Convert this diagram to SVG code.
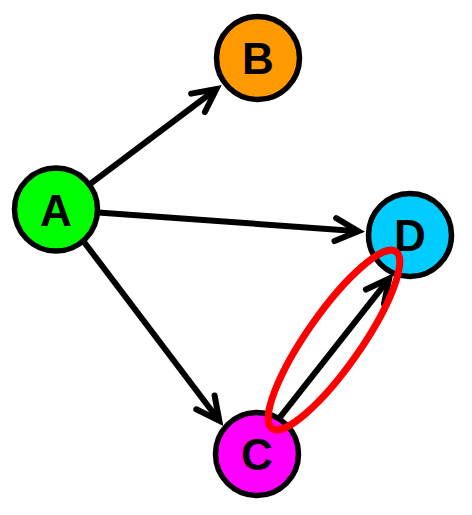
<svg xmlns="http://www.w3.org/2000/svg" width="472" height="515" viewBox="0 0 472 515">
  <style>
    .edge { stroke: #000; stroke-width: 6; fill: none; marker-end: url(#arrow); }
    .node circle { stroke: #000; stroke-width: 5.5; }
    .node text { font-family: "Liberation Sans", Arial, sans-serif; font-weight: bold; font-size: 44px; text-anchor: middle; fill: #000; }
    .hl { stroke: #ff0000; stroke-width: 7; fill: none; }
  </style>
  <defs>
    <marker id="arrow" markerUnits="userSpaceOnUse" markerWidth="60" markerHeight="60" refX="0" refY="0" orient="auto" overflow="visible" viewBox="-30 -30 60 60">
      <path d="M -23 -11.5 L 0 0 L -23 11.5" fill="none" stroke="#000" stroke-width="6" stroke-linecap="round" stroke-linejoin="miter"/>
    </marker>
  </defs>
  <rect width="472" height="515" fill="#fff"/>
  <g id="edges">
    <line class="edge" x1="89.6" y1="184.3" x2="216.4" y2="89"/>
    <line class="edge" x1="97.9" y1="212.5" x2="358.3" y2="231.2"/>
    <line class="edge" x1="84.4" y1="242.5" x2="219.3" y2="420.7"/>
    <line class="edge" x1="279.5" y1="417.8" x2="389.2" y2="278.6"/>
  </g>
  <g id="node-A" class="node">
    <circle cx="56" cy="209.5" r="41.5" fill="#00ff00"/>
    <text x="56" y="225.5">A</text>
  </g>
  <g id="node-B" class="node">
    <circle cx="258" cy="58" r="41.5" fill="#ff9900"/>
    <text x="258" y="74">B</text>
  </g>
  <g id="node-C" class="node">
    <circle cx="257" cy="454" r="41.5" fill="#ff00ff"/>
    <text x="257" y="469.5">C</text>
  </g>
  <g id="node-D" class="node">
    <circle cx="410" cy="235" r="41.5" fill="#00ccff"/>
    <text x="410" y="250.5">D</text>
  </g>
  <g id="highlight">
    <ellipse class="hl" cx="334" cy="340" rx="108" ry="27" transform="rotate(-55 334 340)"/>
  </g>
</svg>
